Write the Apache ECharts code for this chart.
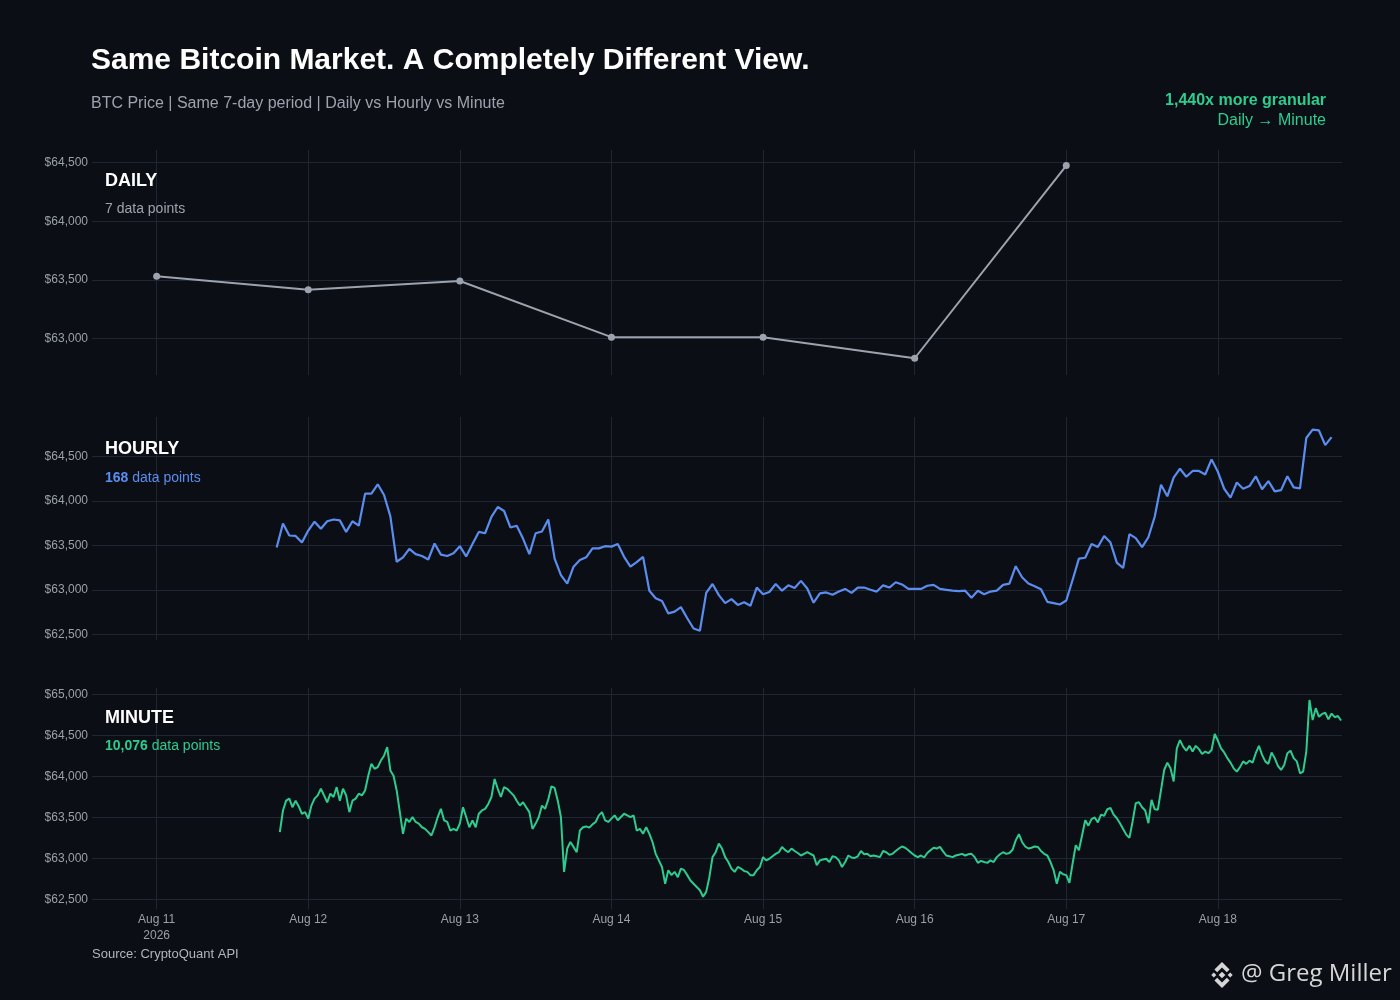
<!DOCTYPE html>
<html>
<head>
<meta charset="utf-8">
<script src="https://cdn.jsdelivr.net/npm/echarts@6/dist/echarts.min.js"></script>
<style>
html,body{margin:0;padding:0;background:#0b0e14;}
#chart{width:1400px;height:1000px;}
</style>
</head>
<body>
<div id="chart"></div>
<script>
// ---------------- DATA ----------------
const dailyDates = ['2026-08-11','2026-08-12','2026-08-13','2026-08-14','2026-08-15','2026-08-16','2026-08-17'];
const dailyPrices = [63530, 63415, 63490, 63010, 63010, 62830, 64475];

const hourlyStart = '2026-08-11T19:00:00Z';
const hourlyPrices = [
 63475,63745,63610,63605,63530,63665,63765,63685,63770,63790,63780,63650,63770,63720,64080,64080,
 64185,64065,63825,63315,63365,63460,63400,63380,63340,63520,63395,63380,63410,63490,63375,63515,
 63650,63635,63820,63930,63885,63700,63720,63575,63400,63635,63655,63790,63350,63165,63070,63260,
 63335,63365,63465,63465,63490,63485,63515,63370,63260,63310,63370,62990,62905,62875,62735,62755,
 62805,62680,62565,62540,62965,63065,62940,62850,62895,62830,62860,62820,63025,62950,62975,63065,
 62990,63050,63020,63100,63015,62855,62960,62970,62945,62980,63010,62965,63025,63025,63000,62980,
 63050,63025,63085,63060,63010,63010,63010,63045,63055,63010,63000,62990,62985,62990,62910,62990,
 62950,62980,62990,63055,63070,63265,63140,63070,63040,63005,62865,62850,62835,62880,63110,63350,
 63360,63515,63480,63605,63530,63305,63245,63625,63580,63480,63590,63820,64180,64050,64260,64360,
 64270,64335,64335,64295,64465,64325,64135,64035,64205,64135,64165,64275,64130,64220,64105,64120,
 64275,64150,64140,64705,64800,64790,64625,64715
];

// minute series, every 30 minutes
const minuteStart = '2026-08-11T19:30:00Z';
const minuteStepMin = 30;
const minutePrices = [
 63320,63585,63705,63730,63625,63705,63635,63545,63565,63485,63645,63730,63770,63850,63770,63685,
 63790,63750,63870,63705,63850,63770,63565,63705,63730,63790,63770,63830,64010,64155,64095,64115,
 64195,64255,64360,64075,64010,63830,63565,63300,63485,63445,63505,63445,63425,63380,63360,63320,
 63280,63380,63505,63605,63465,63445,63340,63360,63340,63425,63625,63505,63380,63465,63380,63545,
 63585,63605,63665,63750,63970,63850,63750,63870,63850,63810,63770,63705,63645,63685,63625,63565,
 63360,63425,63505,63645,63605,63720,63880,63860,63705,63505,62835,63120,63200,63140,63075,63340,
 63380,63390,63375,63415,63445,63525,63565,63465,63445,63485,63525,63465,63505,63545,63525,63505,
 63525,63340,63360,63300,63380,63300,63200,63055,62975,62895,62690,62855,62795,62835,62770,62875,
 62855,62795,62730,62690,62650,62610,62530,62590,62770,63015,63075,63180,63120,63015,62955,62875,
 62835,62895,62875,62845,62835,62795,62795,62855,62895,63015,62975,62995,63025,63055,63075,63140,
 63100,63075,63120,63090,63065,63035,63055,63075,63055,63035,62915,62975,62985,62995,62955,63025,
 63015,62975,62895,62955,63035,63010,63005,63025,63090,63050,63055,63025,63035,63025,63015,63090,
 63075,63045,63055,63090,63120,63145,63130,63100,63065,63035,63015,63035,63010,63065,63100,63130,
 63120,63140,63085,63035,63025,63015,63035,63045,63055,63035,63050,63055,63015,62945,62970,62955,
 62945,62975,62955,63015,63050,63075,63055,63065,63105,63220,63295,63200,63145,63120,63130,63145,
 63140,63090,63055,63035,62955,62855,62690,62835,62805,62795,62700,62935,63160,63100,63280,63465,
 63400,63480,63500,63440,63535,63520,63600,63615,63535,63490,63430,63360,63290,63250,63450,63675,
 63685,63625,63585,63430,63715,63600,63595,63835,64080,64170,64100,63940,64345,64445,64365,64315,
 64375,64305,64375,64335,64275,64305,64285,64325,64520,64440,64345,64295,64225,64170,64100,64060,
 64115,64185,64155,64195,64170,64285,64375,64265,64185,64155,64295,64225,64130,64080,64140,64285,
 64315,64225,64185,64040,64060,64305,64935,64690,64835,64730,64765,64780,64700,64770,64725,64740,
 64685
];

const dayTickLabels = ['Aug 11\n2026','Aug 12','Aug 13','Aug 14','Aug 15','Aug 16','Aug 17','Aug 18'];
const titleText = 'Same Bitcoin Market. A Completely Different View.';
const subtitleText = 'BTC Price | Same 7-day period | Daily vs Hourly vs Minute';
const granularText = '1,440x more granular';
const granularSub = 'Daily \u2192 Minute';
const panelNames = ['DAILY','HOURLY','MINUTE'];
const panelCounts = ['7','168','10,076'];
const sourceText = 'Source: CryptoQuant API';
const watermarkText = '@ Greg Miller';

// ---------------- BUILD ----------------
const HOUR = 3600000, DAY = 86400000;
const dailyData = dailyDates.map((d, i) => [Date.parse(d + 'T00:00:00Z'), dailyPrices[i]]);
const h0 = Date.parse(hourlyStart);
const hourlyData = hourlyPrices.map((v, i) => [h0 + i * HOUR, v]);
const m0 = Date.parse(minuteStart);
const minuteData = minutePrices.map((v, i) => [m0 + i * minuteStepMin * 60000, v]);

const X_MIN = Date.UTC(2026, 7, 10, 13, 46);
const X_MAX = Date.UTC(2026, 7, 18, 19, 39);
const AUG11 = Date.UTC(2026, 7, 11);

const GRID_COLOR = '#1f2634';
const LABEL_COLOR = '#9aa0a8';
const FONT = '"Liberation Sans", Arial, Helvetica, sans-serif';
const C_DAILY = '#9ca3af', C_HOURLY = '#5b8def', C_MINUTE = '#2ecc8f';

const grids = [
  {left: 92, right: 58, top: 150, height: 225},
  {left: 92, right: 58, top: 417, height: 223},
  {left: 92, right: 58, top: 688, height: 221}
];
const yRanges = [[62687, 64608], [62436, 64941], [62381, 65082]];

function fmtDate(v) {
  const d = new Date(v);
  if (d.getUTCHours() !== 0 || d.getUTCMinutes() !== 0) return '';
  const idx = Math.round((v - AUG11) / DAY);
  return dayTickLabels[idx] !== undefined ? dayTickLabels[idx] : '';
}
function fmtPrice(v) {
  if (Math.abs(v % 500) > 0.001) return '';
  return '$' + v.toLocaleString('en-US');
}

const option = {
  backgroundColor: '#0b0e14',
  useUTC: true,
  animation: false,
  textStyle: {fontFamily: FONT},
  grid: grids,
  xAxis: [0, 1, 2].map(i => ({
    type: 'time', gridIndex: i, min: X_MIN, max: X_MAX,
    minInterval: DAY, maxInterval: DAY,
    axisLine: {show: false}, axisTick: {show: false},
    splitLine: {show: true, showMinLine: false, showMaxLine: false, lineStyle: {color: GRID_COLOR, width: 1}},
    axisLabel: {show: i === 2, formatter: fmtDate, color: LABEL_COLOR, fontSize: 12, lineHeight: 16,
      margin: 3, fontFamily: FONT, hideOverlap: false, showMinLabel: true, showMaxLabel: true}
  })),
  yAxis: [0, 1, 2].map(i => ({
    type: 'value', gridIndex: i, min: yRanges[i][0], max: yRanges[i][1],
    minInterval: 500, maxInterval: 500, splitNumber: 4,
    axisLine: {show: false}, axisTick: {show: false},
    splitLine: {show: true, showMinLine: false, showMaxLine: false, lineStyle: {color: GRID_COLOR, width: 1}},
    axisLabel: {formatter: fmtPrice, color: LABEL_COLOR, fontSize: 12, margin: 4, fontFamily: FONT,
      showMinLabel: false, showMaxLabel: false}
  })),
  series: [
    {type: 'line', xAxisIndex: 0, yAxisIndex: 0, data: dailyData, symbol: 'circle', symbolSize: 7,
     showSymbol: true, lineStyle: {color: C_DAILY, width: 2}, itemStyle: {color: C_DAILY}, z: 5},
    {type: 'line', xAxisIndex: 1, yAxisIndex: 1, data: hourlyData, showSymbol: false,
     lineStyle: {color: C_HOURLY, width: 2.2}, itemStyle: {color: C_HOURLY}, z: 5},
    {type: 'line', xAxisIndex: 2, yAxisIndex: 2, data: minuteData, showSymbol: false,
     lineStyle: {color: C_MINUTE, width: 2}, itemStyle: {color: C_MINUTE}, z: 5}
  ],
  graphic: []
};

const g = option.graphic;
function txt(x, y, text, font, fill, align) {
  g.push({type: 'text', x: x, y: y, silent: true, z: 100,
    style: {text: text, font: font, fill: fill, align: align || 'left', verticalAlign: 'middle'}});
}
txt(91, 61, titleText, 'bold 30px ' + FONT, '#ffffff');
txt(91, 104, subtitleText, '16px ' + FONT, '#9ca3af');
txt(1326, 101, granularText, 'bold 16px ' + FONT, C_MINUTE, 'right');
txt(1326, 121, granularSub, '16px ' + FONT, C_MINUTE, 'right');

const nameY = [181, 449, 718];
const countY = [209, 478, 746];
const countColors = ['#9ca3af', C_HOURLY, C_MINUTE];
for (let i = 0; i < 3; i++) {
  txt(105, nameY[i], panelNames[i], 'bold 18px ' + FONT, '#ffffff');
  g.push({type: 'text', x: 105, y: countY[i], silent: true, z: 100,
    style: {text: '{n|' + panelCounts[i] + '}{t| data points}', verticalAlign: 'middle', align: 'left',
      rich: {
        n: {font: (i === 0 ? '' : 'bold ') + '14px ' + FONT, fill: countColors[i]},
        t: {font: '14px ' + FONT, fill: countColors[i]}
      }}});
}
txt(92, 954, sourceText, '13px ' + FONT, '#b0b5bc');

// watermark
txt(1241, 974, watermarkText, '24px "Open Sans", ' + FONT, '#d6d6d6');
const lc = [1222, 975], ls = 21;
function poly(pts) {
  g.push({type: 'polygon', silent: true, z: 100,
    shape: {points: pts.map(p => [lc[0] + p[0] * ls, lc[1] + p[1] * ls])},
    style: {fill: '#d6d6d6'}});
}
poly([[0,-0.16],[0.16,0],[0,0.16],[-0.16,0]]);
poly([[0.39,-0.12],[0.51,0],[0.39,0.12],[0.27,0]]);
poly([[-0.39,-0.12],[-0.27,0],[-0.39,0.12],[-0.51,0]]);
poly([[0,-0.62],[0.36,-0.26],[0.23,-0.13],[0,-0.36],[-0.23,-0.13],[-0.36,-0.26]]);
poly([[0,0.62],[0.36,0.26],[0.23,0.13],[0,0.36],[-0.23,0.13],[-0.36,0.26]]);

const chart = echarts.init(document.getElementById('chart'), null, {renderer: 'canvas', width: 1400, height: 1000});
chart.setOption(option);
</script>
</body>
</html>
